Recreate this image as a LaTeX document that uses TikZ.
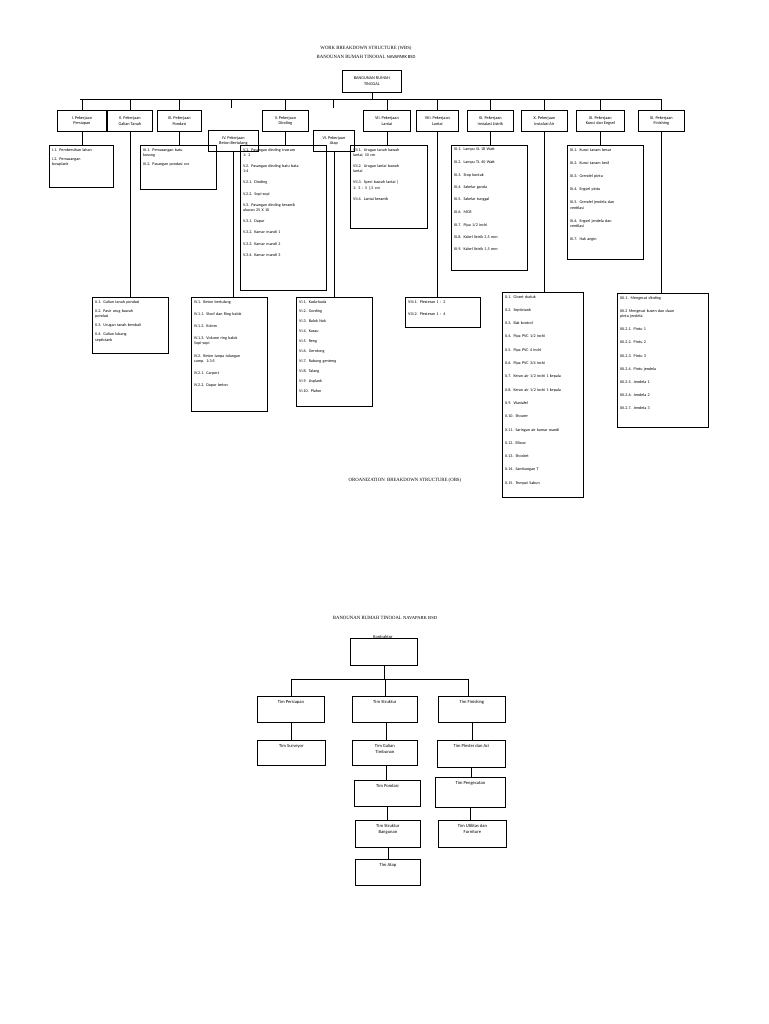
\documentclass[tikz,border=0pt]{standalone}
\usepackage{fontspec}
\setmainfont{Carlito}
\newfontfamily\serifx{Liberation Serif}
\begin{document}
\begin{tikzpicture}[x=1pt,y=-1pt,
  bx/.style={draw,line width=0.8pt,inner sep=0pt,anchor=north west,font=\fontsize{4.3}{5.6}\selectfont,align=center},
  dt/.style={anchor=north west,inner sep=0pt,align=left,font=\fontsize{4.1}{5.2}\selectfont},
  ln/.style={line width=0.8pt},
  ttl/.style={font=\serifx\fontsize{4.8}{6}\selectfont}]
\useasboundingbox[fill=white] (0,0) rectangle (768,1024);
\node[ttl] (t1) at (366,48) {WORK BREAKDOWN STRUCTURE (WBS)};
\node[ttl] (t2) at (366,57) {BANOUNAN RUMAH TINOOAL \rmfamily\fontsize{4.6}{6}\selectfont NAVAPARK\ BSD};
\node[bx,minimum width=59,minimum height=22] (r) at (342,70) {BANGUNAN RUMAH\\TINGGAL};
\coordinate (busL) at (80,99); \coordinate (busR) at (662,99);
\draw[ln] (r.south) -- (r.south |- busL);
\draw[ln] (busL) -- (busR);
% level 1
\newcommand\lone[5]{\node[bx,minimum width=#3,minimum height=21] (#1) at (#2,#4) {#5};}
\lone{a}{57}{49}{110}{I. Pekerjaan\\Persiapan}
\lone{b}{107}{45}{110}{II. Pekerjaan\\Galian Tanah}
\lone{c}{157}{44}{110}{III. Pekerjaan\\Pondasi}
\lone{d}{208}{50}{130}{IV. Pekerjaan\\Beton Bertulang}
\lone{e}{262}{46}{110}{V. Pekerjaan\\Dinding}
\lone{f}{313}{41}{130}{VI. Pekerjaan\\Atap}
\lone{g}{363}{47}{110}{VII. Pekerjaan\\Lantai}
\lone{h}{416}{42}{110}{VIII. Pekerjaan\\Lantai}
\lone{i}{467}{46}{110}{IX. Pekerjaan\\Instalasi Listrik}
\lone{j}{521}{46}{110}{X. Pekerjaan\\Instalasi Air}
\lone{k}{576}{48}{110}{XI. Pekerjaan\\Kunci dan Engsel}
\lone{l}{638}{46}{110}{XI. Pekerjaan\\Finishing}
\foreach \n in {a,b,c,e,g,h,i,j,k,l} \draw[ln] (\n.north) -- (\n.north |- busL);
\coordinate (sd) at (231,108); \coordinate (sf) at (333,108);
\draw[ln] (sd) -- (sd |- busL);
\draw[ln] (sf) -- (sf |- busL);
% detail boxes
\newcommand\dbox[6]{\node[bx,minimum width=#3,minimum height=#5] (#1) at (#2,#4) {};
  \node[dt,text width=#3-6] (#1t) at ([xshift=3,yshift=-3]#1.north west) {#6};}
\dbox{a2}{49}{64}{145}{42}{I.1. Pembersihan lahan\\[4pt]I.2. Pemasangan\\bowplank}
\dbox{b2}{92}{76}{297}{56}{II.1. Galian tanah pondasi\\[4pt]II.2. Pasir urug bawah\\pondasi\\[4pt]II.3. Urugan tanah kembali\\[4pt]II.4. Galian lubang\\septictank}
\dbox{c2}{140}{76}{145}{44}{III.1. Pemasangan batu\\kosong\\[4pt]III.2. Pasangan pondasi cor}
\dbox{d2}{191}{76}{297}{114}{IV.1. Beton bertulang\\[7pt]IV.1.1. Sloof dan Ring balok\\[7pt]IV.1.2. Kolom\\[7pt]IV.1.3. Volume ring balok\\Sopi-sopi\\[7pt]IV.2. Beton tanpa tulangan\\camp. 1:3:5\\[7pt]IV.2.1. Carport\\[7pt]IV.2.2. Dapur beton}
\dbox{e2}{240}{86}{145}{145}{V.1. Pasangan dinding trasram\\1: 2\\[6pt]V.2. Pasangan dinding batu bata\\1:4\\[6pt]V.2.1. Dinding\\[6pt]V.2.2. Sopi-sopi\\[6pt]V.3. Pasangan dinding keramik\\ukuran 25 X 10\\[6pt]V.3.1. Dapur\\[6pt]V.3.2. Kamar mandi 1\\[6pt]V.3.3. Kamar mandi 2\\[6pt]V.3.4. Kamar mandi 3}
\dbox{f2}{296}{76}{297}{109}{VI.1. Kuda-kuda\\[4.7pt]VI.2. Gording\\[4.7pt]VI.3. Balok Nok\\[4.7pt]VI.4. Kasau\\[4.7pt]VI.5. Reng\\[4.7pt]VI.6. Gerntong\\[4.7pt]VI.7. Rabung genteng\\[4.7pt]VI.8. Talang\\[4.7pt]VI.9. Lisplank\\[4.7pt]VI.10. Plafon}
\dbox{g2}{350}{77}{145}{83}{VII.1. Urugan tanah bawah\\lantai, 10 cm\\[6pt]VII.2. Urugan lantai bawah\\lantai\\[6pt]VII.3. Speci bawah lantai |\\1: 3 : 5 |,5 cm\\[6pt]VII.4. Lantai keramik}
\dbox{h2}{405}{75}{297}{30}{VIII.1. Plesteran 1 : 2\\[7.5pt]VIII.2. Plesteran 1 : 4}
\dbox{i2}{451}{76}{145}{125}{IX.1. Lampu SL 18 Watt\\[7.3pt]IX.2. Lampu TL 40 Watt\\[7.3pt]IX.3. Stop kontak\\[7.3pt]IX.4. Sakelar ganda\\[7.3pt]IX.5. Sakelar tunggal\\[7.3pt]IX.6. MCB\\[7.3pt]IX.7. Pipa 1/2 inchi\\[7.3pt]IX.8. Kabel listrik 2,5 mm\\[7.3pt]IX.9. Kabel listrik 1,5 mm}
\dbox{j2}{502}{81}{292}{205}{X.1. Closet duduk\\[8.1pt]X.2. Septictank\\[8.1pt]X.3. Bak kontrol\\[8.1pt]X.4. Pipa PVC 1/2 inchi\\[8.1pt]X.5. Pipa PVC 4 inchi\\[8.1pt]X.6. Pipa PVC 3/4 inchi\\[8.1pt]X.7. Keran air 1/2 inchi 1 kepala\\[8.1pt]X.8. Keran air 1/2 inchi 1 kepala\\[8.1pt]X.9. Wastafel\\[8.1pt]X.10. Shower\\[8.1pt]X.11. Saringan air kamar mandi\\[8.1pt]X.12. Elbow\\[8.1pt]X.13. Shocket\\[8.1pt]X.14. Sambungan T\\[8.1pt]X.15. Tempat Sabun}
\dbox{k2}{567}{76}{145}{114}{XI.1. Kunci tanam besar\\[8pt]XI.2. Kunci tanam kecil\\[8pt]XI.3. Grendel pintu\\[8pt]XI.4. Engsel pintu\\[8pt]XI.5. Grendel jendela dan\\ventilasi\\[8pt]XI.6. Engsel jendela dan\\ventilasi\\[8pt]XI.7. Hak angin}
\dbox{l2}{617}{91}{293}{134}{XII.1. Mengecat dinding\\[8pt]XII.2 Mengecat kusen dan daun\\pintu jendela\\[8pt]XII.2.1. Pintu 1\\[8pt]XII.2.2. Pintu 2\\[8pt]XII.2.3. Pintu 3\\[8pt]XII.2.4. Pintu jendela\\[8pt]XII.2.5. Jendela 1\\[8pt]XII.2.6. Jendela 2\\[8pt]XII.2.7. Jendela 3}
\foreach \p/\q in {a/a2,c/c2,e/e2,g/g2,i/i2,k/k2}
  \draw[ln] (\p.south) -- (\p.south |- \q.north);
\draw[ln] (b.south) -- (b.south |- b2.north);
\draw[ln] (d.south) -- (d.south |- d2.north);
\draw[ln] (f.south) -- (f.south |- f2.north);
\draw[ln] (h.south) -- (h.south |- h2.north);
\draw[ln] (j.south) -- (j.south |- j2.north);
\draw[ln] (l.south) -- (l.south |- l2.north);
% OBS
\node[ttl] (t3) at (405,480) {OROANIZATION\ \ BREAKDOWN STRUCTURE (OBS)};
\node[ttl] (t4) at (385,618) {BANOUNAN RUMAH TINOOAL \fontsize{4.6}{6}\selectfont NAVAPARK\ BSD};
\node[bx,minimum width=67,minimum height=27] (ko) at (350,638) {};
\node[font=\fontsize{4.5}{5.5}\selectfont,inner sep=0pt] (kol) at (383,637) {Kontraktor};
\coordinate (oL) at (292,679); \coordinate (oR) at (468,679);
\draw[ln] (ko.south) -- (ko.south |- oL);
\draw[ln] (oL) -- (oR);
\newcommand\ob[6]{\node[bx,minimum width=#3,minimum height=#5,font=\fontsize{4.6}{6}\selectfont,align=center] (#1) at (#2,#4) {};
 \node[font=\fontsize{4.6}{6}\selectfont,align=center,anchor=north,inner sep=0pt] (#1t) at ([yshift=-4]#1.north) {#6};}
\ob{p1}{257}{67}{696}{26}{Tim Persiapan}
\ob{s1}{352}{65}{696}{26}{Tim Struktur}
\ob{f1}{438}{67}{696}{26}{Tim Finishing}
\ob{p2}{257}{68}{740}{25}{Tim Surveyor}
\ob{s2}{352}{65}{740}{25}{Tim Galian\\Timbunan}
\ob{s3}{354}{66}{780}{26}{Tim Pondasi}
\ob{s4}{355}{65}{820}{27}{Tim Struktur\\Bangunan}
\ob{s5}{355}{65}{859}{26}{Tim Atap}
\ob{f2}{437}{68}{740}{27}{Tim Plester dan Aci}
\ob{f3}{435}{70}{777}{30}{Tim Pengecatan}
\ob{f4}{438}{68}{820}{27}{Tim Utilitas dan\\Furniture}
\draw[ln] (p1.north |- oL) -- (p1.north);
\draw[ln] (s1.north |- oL) -- (s1.north);
\draw[ln] (oR) -- (oR |- f1.north);
\draw[ln] (p1.south) -- (p1.south |- p2.north);
\draw[ln] ([xshift=1]s1.south) -- ([xshift=1]s1.south |- s2.north);
\draw[ln] ([xshift=1]s2.south) -- ([xshift=1]s2.south |- s3.north);
\draw[ln] (s3.south) -- (s3.south |- s4.north);
\draw[ln] (s4.south) -- (s4.south |- s5.north);
\draw[ln] (f1.south) -- (f1.south |- f2.north);
\draw[ln] (f2.south) -- (f2.south |- f3.north);
\draw[ln] (f3.south) -- (f3.south |- f4.north);
\end{tikzpicture}
\end{document}
